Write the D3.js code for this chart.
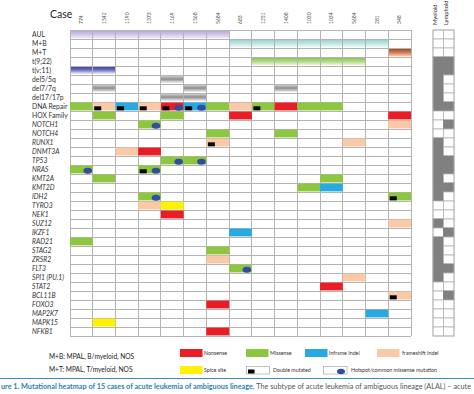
<!DOCTYPE html>
<html>
<head>
<meta charset="utf-8">
<script src="https://cdn.jsdelivr.net/npm/d3@7"></script>
<style>
  body { margin: 0; background: #fff; }
  svg { display: block; }
  text { font-family: Lato, "Liberation Sans", sans-serif; }
</style>
</head>
<body>
<div class="Canvas"></div>
<script>
// Cases across the top (as printed in the figure).
const cases = ['774', '1542', '1190', '1373', '1169', '1568', '5684', '683', '1251', '1408', '1030', '1034', '5684', '281', '348'];

// Rows: subtype / cytogenetics first, then pathways and genes (genes in italics).
const rowLabels = ['AUL', 'M+B', 'M+T', 't(9;22)', 't(v;11)', 'del5/5q', 'del7/7q', 'del17/17p', 'DNA Repair', 'HOX Family',
    'NOTCH1', 'NOTCH4', 'RUNX1', 'DNMT3A', 'TP53', 'NRAS', 'KMT2A', 'KMT2D', 'IDH2', 'TYRO3', 'NEK1', 'SUZ12', 'IKZF1',
    'RAD21', 'STAG2', 'ZRSR2', 'FLT3', 'SPI1 (PU.1)', 'STAT2', 'BCL11B', 'FOXO3', 'MAP2K7', 'MAPK15', 'NFKB1'];
const italicFrom = 10;

// Subtype and cytogenetic bars: [row, first case, last case, kind]
const bars = [
    ['AUL', 0, 6, 'aul'],
    ['M+B', 7, 13, 'mb'],
    ['M+T', 14, 14, 'mt'],
    ['t(9;22)', 8, 12, 't922'],
    ['t(v;11)', 0, 1, 'tv11'],
    ['del5/5q', 4, 4, 'del'],
    ['del7/7q', 1, 1, 'del'],
    ['del7/7q', 5, 5, 'del'],
    ['del7/7q', 9, 9, 'del'],
    ['del17/17p', 4, 4, 'del'],
    ['del17/17p', 5, 5, 'del'],
];

// Mutations: [row, case, type, double mutated, hotspot]
const mutations = [
    ['DNA Repair', 0, 'M', 0, 0], ['DNA Repair', 1, 'F', 1, 0], ['DNA Repair', 2, 'I', 1, 0], ['DNA Repair', 3, 'F', 1, 0],
    ['DNA Repair', 4, 'N', 1, 1], ['DNA Repair', 5, 'I', 1, 1], ['DNA Repair', 6, 'M', 0, 0], ['DNA Repair', 7, 'F', 0, 0],
    ['DNA Repair', 8, 'M', 1, 0], ['DNA Repair', 9, 'N', 0, 0], ['DNA Repair', 10, 'M', 0, 0], ['DNA Repair', 11, 'M', 0, 0],
    ['HOX Family', 1, 'M', 0, 0], ['HOX Family', 4, 'M', 0, 0], ['HOX Family', 7, 'N', 0, 0], ['HOX Family', 14, 'N', 0, 0],
    ['NOTCH1', 3, 'M', 0, 1], ['NOTCH1', 14, 'F', 0, 0],
    ['NOTCH4', 6, 'M', 0, 0], ['NOTCH4', 9, 'M', 0, 0],
    ['RUNX1', 6, 'F', 1, 0], ['RUNX1', 12, 'F', 0, 0],
    ['DNMT3A', 2, 'F', 0, 0], ['DNMT3A', 3, 'N', 0, 0],
    ['TP53', 4, 'M', 0, 1], ['TP53', 5, 'M', 0, 1],
    ['NRAS', 0, 'M', 0, 1], ['NRAS', 3, 'M', 1, 1],
    ['KMT2A', 1, 'M', 0, 0], ['KMT2A', 11, 'M', 0, 0],
    ['KMT2D', 10, 'M', 0, 0], ['KMT2D', 11, 'I', 0, 0],
    ['IDH2', 3, 'M', 0, 1], ['IDH2', 14, 'M', 1, 0],
    ['TYRO3', 3, 'F', 0, 0], ['TYRO3', 4, 'S', 0, 0],
    ['NEK1', 4, 'N', 0, 0],
    ['SUZ12', 14, 'F', 0, 0],
    ['IKZF1', 7, 'I', 0, 0],
    ['RAD21', 0, 'M', 0, 0],
    ['STAG2', 6, 'M', 0, 0],
    ['ZRSR2', 6, 'F', 0, 0],
    ['FLT3', 7, 'M', 0, 1],
    ['SPI1 (PU.1)', 12, 'F', 0, 0],
    ['STAT2', 11, 'N', 0, 0],
    ['BCL11B', 14, 'F', 1, 0],
    ['FOXO3', 6, 'N', 0, 0],
    ['MAP2K7', 13, 'I', 0, 0],
    ['MAPK15', 1, 'S', 0, 0],
    ['NFKB1', 6, 'N', 0, 0],
];

// Lineage panel on the right, one flag per row.
const lineages = ['Myeloid', 'Lymphoid'];
const myeloid = [0, 0, 0, 1, 1, 1, 1, 1, 1, 0, 0, 0, 1, 1, 1, 1, 1, 1, 1, 0, 0, 1, 0, 1, 1, 1, 1, 1, 0, 0, 0, 0, 0, 0];
const lymphoid = [0, 0, 0, 1, 1, 0, 0, 0, 1, 0, 1, 0, 0, 0, 1, 1, 0, 1, 0, 0, 0, 0, 1, 0, 0, 0, 1, 0, 0, 1, 0, 0, 0, 0];

// Legend entries.
const legendTypes = [['N', 'Nonsense'], ['M', 'Missense'], ['I', 'Inframe Indel'], ['F', 'frameshift Indel'], ['S', 'Spice site']];
const subtypeNotes = ['M+B: MPAL, B/myeloid, NOS', 'M+T: MPAL, T/myeloid, NOS'];

const W = 474, H = 394;
const typeColor = { N: '#ec1c24', M: '#8dc63f', I: '#27aae1', F: '#fbc9a5', S: '#fff200' };
const gridColor = '#b4b4b4';

const svg = d3.select('.Canvas').append('svg').attr('width', W).attr('height', H);
svg.append('rect').attr('width', W).attr('height', H).attr('fill', '#fff');

// Vertical gradients for the bars.
const gradStops = {
    aul: [['0%', '#b5a6d8'], ['45%', '#cec3e7'], ['100%', '#f1edf8']],
    mb: [['0%', '#8fd2cd'], ['50%', '#bfe6e3'], ['100%', '#f2fafa']],
    mt: [['0%', '#9a4a22'], ['45%', '#c7784e'], ['100%', '#fbd2b4']],
    t922: [['0%', '#86c048'], ['50%', '#b3da8a'], ['100%', '#f1f8e8']],
    tv11: [['0%', '#3b3f98'], ['45%', '#7174c0'], ['100%', '#ffffff']],
    del: [['0%', '#d8d8d8'], ['45%', '#8e8e8e'], ['100%', '#ffffff']],
};
const defs = svg.append('defs');
Object.entries(gradStops).forEach(([k, stops]) => {
    const g = defs.append('linearGradient').attr('id', `grad_${k}`).attr('x1', 0).attr('y1', 0).attr('x2', 0).attr('y2', 1);
    stops.forEach((s) => g.append('stop').attr('offset', s[0]).attr('stop-color', s[1]));
});

const x = d3.scaleBand().domain(d3.range(cases.length)).range([70, 411]);
const y = d3.scaleBand().domain(rowLabels).range([30, 336]);
const xl = d3.scaleBand().domain(lineages).range([433, 454]);

// Bars under the grid lines.
svg.append('g')
    .selectAll('rect')
    .data(bars)
    .enter()
    .append('rect')
    .attr('x', (d) => x(d[1]))
    .attr('y', (d) => y(d[0]) + 0.5)
    .attr('width', (d) => x(d[2]) + x.bandwidth() - x(d[1]))
    .attr('height', y.bandwidth() - 1)
    .attr('fill', (d) => `url(#grad_${d[3]})`);

// Grid.
const grid = svg.append('g').attr('stroke', gridColor).attr('stroke-width', 1).attr('shape-rendering', 'crispEdges');
d3.range(cases.length + 1).forEach((i) => {
    const xx = i < cases.length ? x(i) : x.range()[1];
    grid.append('line').attr('x1', xx).attr('x2', xx).attr('y1', 30).attr('y2', 336);
});
d3.range(rowLabels.length + 1).forEach((i) => {
    const yy = i < rowLabels.length ? y(rowLabels[i]) : y.range()[1];
    grid.append('line').attr('x1', 70).attr('x2', 411).attr('y1', yy).attr('y2', yy);
});

// Mutation cells.
const cells = svg.append('g').selectAll('g').data(mutations).enter().append('g');
cells.append('rect')
    .attr('x', (d) => x(d[1]))
    .attr('y', (d) => y(d[0]) + 0.6)
    .attr('width', x.bandwidth())
    .attr('height', y.bandwidth() - 1.2)
    .attr('fill', (d) => typeColor[d[2]]);
cells.filter((d) => d[3])
    .append('rect')
    .attr('x', (d) => x(d[1]) + 1.5)
    .attr('y', (d) => y(d[0]) + y.bandwidth() * 0.48)
    .attr('width', 7)
    .attr('height', 4)
    .attr('fill', '#000');
cells.filter((d) => d[4])
    .append('ellipse')
    .attr('cx', (d) => x(d[1]) + x.bandwidth() - 5)
    .attr('cy', (d) => y(d[0]) + y.bandwidth() * 0.65)
    .attr('rx', 4.3)
    .attr('ry', 3)
    .attr('fill', '#2f4ea1');

// Row labels.
svg.append('g')
    .selectAll('text')
    .data(rowLabels)
    .enter()
    .append('text')
    .attr('x', 32)
    .attr('y', (d) => y(d) + y.bandwidth() / 2 + 2.4)
    .attr('font-size', 6.8)
    .attr('fill', '#333')
    .attr('font-style', (d, i) => (i >= italicFrom ? 'italic' : 'normal'))
    .text((d) => d);

// Case labels (rotated).
svg.append('text').attr('x', 50).attr('y', 18).attr('font-size', 10.5)
    .attr('font-family', 'Liberation Sans, Arial, sans-serif').attr('fill', '#222').text('Case');
svg.append('g')
    .selectAll('text')
    .data(cases)
    .enter()
    .append('text')
    .attr('transform', (d, i) => `translate(${x(i) + x.bandwidth() / 2 + 1.8},24) rotate(-90)`)
    .attr('font-size', 5)
    .attr('font-family', 'Liberation Sans, Arial, sans-serif')
    .attr('fill', '#555')
    .text((d) => d);

// Lineage panel.
const lin = svg.append('g');
lineages.forEach((name, j) => {
    const flags = j === 0 ? myeloid : lymphoid;
    lin.selectAll(`rect.l${j}`)
        .data(rowLabels)
        .enter()
        .append('rect')
        .attr('class', `l${j}`)
        .attr('x', xl(name))
        .attr('y', (d) => y(d))
        .attr('width', xl.bandwidth())
        .attr('height', y.bandwidth())
        .attr('fill', (d, i) => (flags[i] ? '#808080' : '#fff'))
        .attr('stroke', (d, i) => (flags[i] ? '#808080' : gridColor))
        .attr('stroke-width', 0.8);
    lin.append('text')
        .attr('transform', `translate(${xl(name) + xl.bandwidth() / 2 - 1},25) rotate(-90)`)
        .attr('font-size', 5.8)
        .attr('font-family', 'Liberation Sans, Arial, sans-serif')
        .attr('fill', '#333')
        .text(name);
});
lin.append('rect').attr('x', 433).attr('y', 30).attr('width', 21).attr('height', 306)
    .attr('fill', 'none').attr('stroke', gridColor).attr('stroke-width', 0.8);

// Legend.
const leg = svg.append('g');
subtypeNotes.forEach((t, i) => {
    leg.append('text').attr('x', 49).attr('y', 359 + i * 13).attr('font-size', 6.6).attr('fill', '#222').text(t);
});
const legPos = [[180, 349, 204], [246, 349, 270], [305, 349, 329], [377, 349, 402], [180, 366, 204]];
legendTypes.forEach((t, i) => {
    const p = legPos[i];
    leg.append('rect').attr('x', p[0]).attr('y', p[1]).attr('width', 22.5).attr('height', 8).attr('fill', typeColor[t[0]]);
    leg.append('text').attr('x', p[2]).attr('y', p[1] + 6).attr('font-size', 5.3)
        .attr('font-family', 'Liberation Sans, Arial, sans-serif').attr('fill', '#333').text(t[1]);
});
leg.append('rect').attr('x', 246.5).attr('y', 366.5).attr('width', 23).attr('height', 7.5)
    .attr('fill', '#fff').attr('stroke', '#999').attr('stroke-width', 0.6);
leg.append('rect').attr('x', 248).attr('y', 369.5).attr('width', 6.5).attr('height', 4).attr('fill', '#000');
leg.append('text').attr('x', 273).attr('y', 372).attr('font-size', 5.3)
    .attr('font-family', 'Liberation Sans, Arial, sans-serif').attr('fill', '#333').text('Double mutated');
leg.append('rect').attr('x', 323.5).attr('y', 366.5).attr('width', 23.5).attr('height', 7.5)
    .attr('fill', '#fff').attr('stroke', '#999').attr('stroke-width', 0.6);
leg.append('ellipse').attr('cx', 341).attr('cy', 371.5).attr('rx', 4).attr('ry', 2.8).attr('fill', '#2f4ea1');
leg.append('text').attr('x', 351).attr('y', 372).attr('font-size', 5.3)
    .attr('font-family', 'Liberation Sans, Arial, sans-serif').attr('fill', '#333').text('Hotspot/common missense mutation');

// Caption rule and (cropped) caption, squeezed to the page width.
svg.append('line').attr('x1', 0).attr('x2', W).attr('y1', 378.5).attr('y2', 378.5).attr('stroke', '#3a8fc2').attr('stroke-width', 1);
const cap = svg.append('text').attr('x', 1).attr('y', 388.5).attr('font-size', 7.2)
    .attr('textLength', 470).attr('lengthAdjust', 'spacingAndGlyphs');
cap.append('tspan').attr('font-weight', 'bold').attr('fill', '#2a7fb4')
    .text('ure 1. Mutational heatmap of 15 cases of acute leukemia of ambiguous lineage.');
cap.append('tspan').attr('fill', '#555')
    .text(' The subtype of acute leukemia of ambiguous lineage (ALAL) – acute');
</script>
</body>
</html>
